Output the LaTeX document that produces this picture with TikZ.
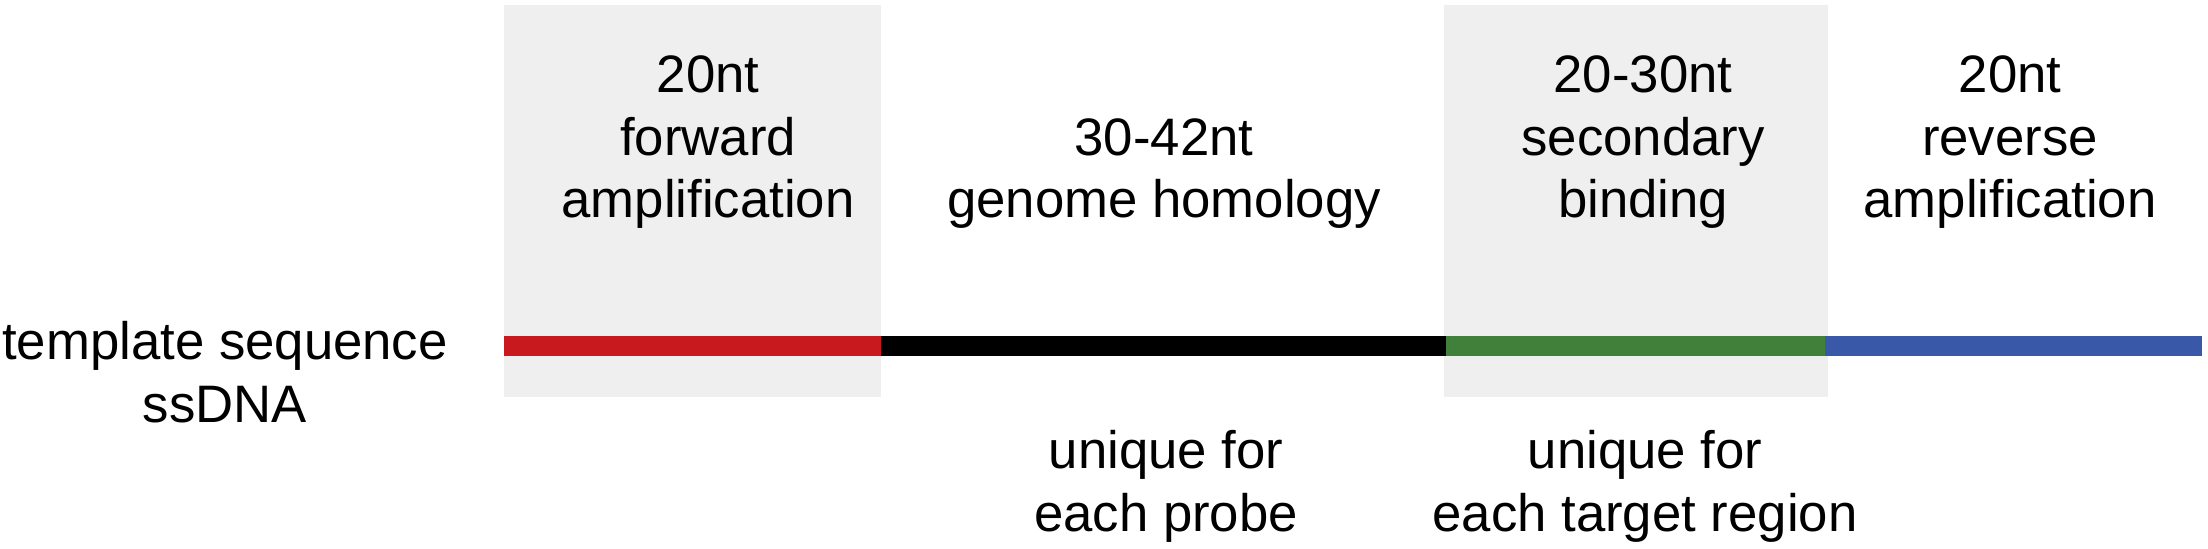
\documentclass[tikz,border=0pt]{standalone}
\usepackage{fontspec}
\setmainfont{Liberation Sans}
\definecolor{fwdred}{RGB}{200,25,30}
\definecolor{secgreen}{RGB}{65,128,58}
\definecolor{revblue}{RGB}{58,88,168}
\definecolor{boxgray}{RGB}{239,239,239}

\begin{document}
\begin{tikzpicture}[lbl/.style={font=\fontsize{15}{17.9}\selectfont,align=center,inner sep=0pt,anchor=base},
	seg/.style={line width=0.2cm}]
	\useasboundingbox (0,0) rectangle (22.08,5.48);
	\fill[boxgray] (5.04,1.51) rectangle (8.81,5.43);
	\fill[boxgray] (14.44,1.51) rectangle (18.28,5.43);
	
	\coordinate (s0) at (5.04,2.02);
	\coordinate (s1) at (8.81,2.02);
	\coordinate (s2) at (14.46,2.02);
	\coordinate (s3) at (18.25,2.02);
	\coordinate (s4) at (22.02,2.02);
	\draw[seg,fwdred](s0)--(s1);
	\draw[seg,black](s1)--(s2);
	\draw[seg,secgreen](s2)--(s3);
	\draw[seg,revblue](s3)--(s4);
	
	\node[lbl] at (2.25,1.26)(tmpl){template sequence\\ssDNA};
	\node[lbl] at (7.08,3.30)(fwd){20nt\\forward\\amplification};
	\node[lbl] at (11.64,3.30)(hom){30-42nt\\genome homology};
	\node[lbl] at (16.43,3.30)(sec){20-30nt\\secondary\\binding};
	\node[lbl] at (20.10,3.30)(rev){20nt\\reverse\\amplification};
	\node[lbl] at (11.66,0.17)(uprobe){unique for\\each probe};
	\node[lbl] at (16.45,0.17)(uregion){unique for\\each target region};
\end{tikzpicture}
\end{document}
